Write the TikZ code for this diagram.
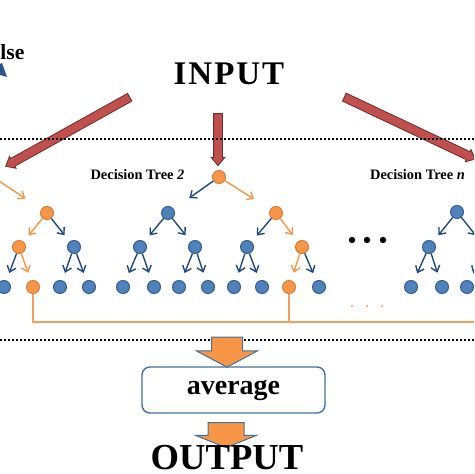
\documentclass[tikz,border=0pt]{standalone}
\usepackage{fontspec}
\setmainfont{Liberation Serif}
\usepackage{xcolor}
\usepackage{tikz}
\usetikzlibrary{arrows.meta, shapes.arrows, calc}

\definecolor{leafblue}{RGB}{79,129,189}
\definecolor{leafblueline}{RGB}{56,93,138}
\definecolor{leaforange}{RGB}{247,150,70}
\definecolor{edgeblue}{RGB}{31,73,125}
\definecolor{inred}{RGB}{192,80,77}
\definecolor{inredline}{RGB}{110,45,45}
\definecolor{boxline}{RGB}{65,113,156}
\definecolor{votecolor}{RGB}{240,160,90}

\tikzset{
    bnode/.style={circle, fill=leafblue, draw=leafblueline, line width=0.5pt, minimum size=6.5pt, inner sep=0pt},
    onode/.style={circle, fill=leaforange, draw=leaforange!85!black, line width=0.5pt, minimum size=6.5pt, inner sep=0pt},
    bedge/.style={edgeblue, line width=0.7pt, -{Straight Barb[length=2.8pt, width=4.6pt]}, shorten >=4pt},
    oedge/.style={leaforange, line width=0.7pt, -{Straight Barb[length=2.8pt, width=4.6pt]}, shorten >=4pt},
    redarrow/.style={single arrow, fill=inred, draw=inredline, line width=0.4pt, inner xsep=0pt, inner ysep=2pt, single arrow head extend=1.2pt, single arrow tip angle=80},
    bigarrow/.style={single arrow, fill=leaforange, draw=boxline, line width=0.5pt, inner xsep=0pt}
}

\begin{document}
\begin{tikzpicture}[x=0.5pt, y=-0.5pt]
        \useasboundingbox (0,0) rectangle (474,474);
        \clip (0,0) rectangle (474,474);

            % top left remains
            \node[font=\fontsize{10.8}{12}\selectfont\bfseries, anchor=base west, inner sep=0pt] (flabel) at (0,60) {lse};
            \fill[edgeblue!80!leafblue] (0,64) -- (2,63) -- (7,77) -- (0,75) -- cycle;

            \node[font=\fontsize{16.5}{18}\selectfont\bfseries, anchor=base, inner sep=0pt] (input) at (229,85) {\addfontfeature{LetterSpace=6}INPUT};

            % input arrows
            \node[redarrow, minimum height=71pt, rotate=209.1] (in1) at (70,130.5) {};
            \node[redarrow, minimum height=26pt, rotate=-90] (in2) at (218,137) {};
            \node[redarrow, minimum height=72.5pt, rotate=-25.3] (in3) at (407.5,127) {};

            \draw[line width=1pt, dash pattern=on 1pt off 1pt] (0,139) -- (474,139);
            \draw[line width=1pt, dash pattern=on 1pt off 1pt] (0,340) -- (474,340);

            \node[font=\fontsize{7.2}{8}\selectfont\bfseries, anchor=base] (name2) at (137.5,180) {Decision Tree \textit{2}};
            \node[font=\fontsize{7.2}{8}\selectfont\bfseries, anchor=base] (namen) at (417.5,180) {Decision Tree \textit{n}};

            % tree 1
            \node[onode] (t1) at (-7,177) {};
            \node[onode] (t1b) at (47,213) {};
            \node[onode] (t1ba) at (19,247) {};
            \node[bnode] (t1bb) at (74,247) {};
            \node[bnode] (t1baa) at (4,287) {};
            \node[onode] (t1bab) at (33,287) {};
            \node[bnode] (t1bba) at (60,287) {};
            \node[bnode] (t1bbb) at (89,287) {};
            \draw[oedge, shorten >=9.5pt] (t1) -- (t1b);
            \draw[oedge] (t1b) -- (t1ba);
            \draw[bedge] (t1b) -- (t1bb);
            \draw[bedge] (t1ba) -- (t1baa);
            \draw[oedge] (t1ba) -- (t1bab);
            \draw[bedge] (t1bb) -- (t1bba);
            \draw[bedge] (t1bb) -- (t1bbb);

            % tree 2
            \node[onode] (t2) at (219,177) {};
            \node[bnode] (t2a) at (168,213) {};
            \node[onode] (t2b) at (276,213) {};
            \node[bnode] (t2aa) at (140,247) {};
            \node[bnode] (t2ab) at (195,247) {};
            \node[bnode] (t2ba) at (247,247) {};
            \node[onode] (t2bb) at (302,247) {};
            \node[bnode] (t2aaa) at (123,287) {};
            \node[bnode] (t2aab) at (154,287) {};
            \node[bnode] (t2aba) at (179,287) {};
            \node[bnode] (t2abb) at (208,287) {};
            \node[bnode] (t2baa) at (234,287) {};
            \node[bnode] (t2bab) at (262,287) {};
            \node[onode] (t2bba) at (289,287) {};
            \node[bnode] (t2bbb) at (319,287) {};
            \draw[bedge, shorten >=9.5pt] (t2) -- (t2a);
            \draw[oedge, shorten >=9.5pt] (t2) -- (t2b);
            \draw[bedge] (t2a) -- (t2aa);
            \draw[bedge] (t2a) -- (t2ab);
            \draw[bedge] (t2b) -- (t2ba);
            \draw[oedge] (t2b) -- (t2bb);
            \draw[bedge] (t2aa) -- (t2aaa);
            \draw[bedge] (t2aa) -- (t2aab);
            \draw[bedge] (t2ab) -- (t2aba);
            \draw[bedge] (t2ab) -- (t2abb);
            \draw[bedge] (t2ba) -- (t2baa);
            \draw[bedge] (t2ba) -- (t2bab);
            \draw[oedge] (t2bb) -- (t2bba);
            \draw[bedge] (t2bb) -- (t2bbb);

            % tree n
            \node[bnode] (tn) at (508,177) {};
            \node[bnode] (tna) at (457,212) {};
            \node[bnode] (tnaa) at (429,247) {};
            \node[bnode] (tnab) at (485,247) {};
            \node[bnode] (tnaaa) at (411,287) {};
            \node[bnode] (tnaab) at (442,287) {};
            \node[bnode] (tnaba) at (467,287) {};
            \node[bnode] (tnabb) at (500,287) {};
            \draw[bedge, shorten >=9.5pt] (tn) -- (tna);
            \draw[bedge] (tna) -- (tnaa);
            \draw[bedge] (tna) -- (tnab);
            \draw[bedge] (tnaa) -- (tnaaa);
            \draw[bedge] (tnaa) -- (tnaab);
            \draw[bedge] (tnab) -- (tnaba);
            \draw[bedge] (tnab) -- (tnabb);

            % more trees
            \foreach \x in {352,367,383} \fill (\x,240) circle (1.6pt);
            \foreach \x in {352,367,382} \fill[votecolor] (\x,306) circle (0.6pt);

            % votes
            \coordinate (voteend) at (480,322);
            \draw[votecolor, line width=1pt] (t1bab) |- (voteend);
            \draw[votecolor, line width=1pt] (t2bba) -- (t2bba |- voteend);

            % output
            \node[bigarrow, minimum height=15pt, inner ysep=7.5pt, single arrow head extend=7.5pt, single arrow tip angle=124, rotate=-90] (toavg) at (227,348) {};
            \node[draw=boxline, line width=0.7pt, rounded corners=4pt, minimum width=91.5pt, minimum height=23pt, font=\fontsize{14}{16}\selectfont\bfseries] (avg) at (233.5,390) {average};
            \node[bigarrow, minimum height=12.5pt, inner ysep=8.75pt, single arrow head extend=6.25pt, single arrow tip angle=136, rotate=-90] (toout) at (226,431.5) {};
            \node[font=\fontsize{18.3}{20}\selectfont\bfseries, anchor=base, inner sep=0pt] (output) at (227,469) {OUTPUT};
\end{tikzpicture}
\end{document}
